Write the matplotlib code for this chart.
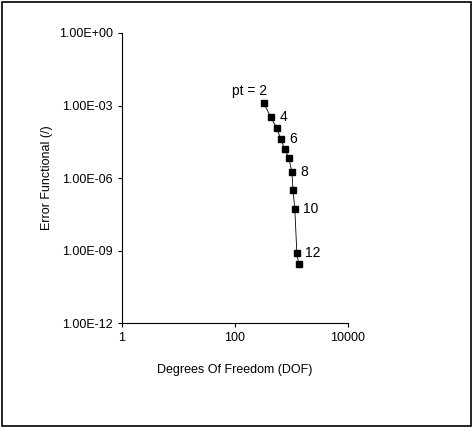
import matplotlib
matplotlib.use("Agg")
import matplotlib.pyplot as plt
from matplotlib.ticker import FixedLocator, NullLocator, FixedFormatter

plt.rcParams['font.family'] = ['Liberation Sans', 'DejaVu Sans']

dof = [325, 435, 552, 650, 765, 905, 1020, 1070, 1150, 1250, 1350]
err = [10**-2.91, 10**-3.49, 10**-3.94, 10**-4.40, 10**-4.81, 10**-5.18, 10**-5.76, 10**-6.50, 10**-7.29, 10**-9.11, 10**-9.56]
labels = {0: "pt = 2", 1: "4", 3: "6", 6: "8", 8: "10", 9: "12"}
yticks = [1e-12, 1e-9, 1e-6, 1e-3, 1e0]
ylabels = ["1.00E-12", "1.00E-09", "1.00E-06", "1.00E-03", "1.00E+00"]
xticks = [1, 100, 10000]
xlabels = ["1", "100", "10000"]

fig = plt.figure(figsize=(4.74, 4.28), dpi=100)
fig.patches.append(plt.Rectangle((0.004, 0.005), 0.99, 0.99, transform=fig.transFigure,
                                 fill=False, edgecolor='black', lw=1.2))
ax = fig.add_axes([0.257, 0.245, 0.477, 0.678])
ax.plot(dof, err, color='black', lw=0.6, marker='s', ms=5)
ax.set_xscale('log'); ax.set_yscale('log')
ax.set_xlim(1, 10000); ax.set_ylim(1e-12, 1)
ax.xaxis.set_major_locator(FixedLocator(xticks))
ax.xaxis.set_major_formatter(FixedFormatter(xlabels))
ax.xaxis.set_minor_locator(NullLocator())
ax.yaxis.set_major_locator(FixedLocator(yticks))
ax.yaxis.set_major_formatter(FixedFormatter(ylabels))
ax.yaxis.set_minor_locator(NullLocator())
for s in ['top', 'right']:
    ax.spines[s].set_visible(False)
ax.tick_params(labelsize=9, length=3)
ax.set_xlabel("Degrees Of Freedom (DOF)", fontsize=9, labelpad=14)
ax.set_ylabel("Error Functional (/)", fontsize=9, labelpad=4)
for i, t in labels.items():
    if i == 0:
        ax.annotate(t, (dof[i], err[i]), xytext=(-10, 4), textcoords='offset points',
                    ha='center', va='bottom', fontsize=10)
    else:
        ax.annotate(t, (dof[i], err[i]), xytext=(6, 0), textcoords='offset points',
                    ha='left', va='center', fontsize=10)
fig.savefig("out.png")
